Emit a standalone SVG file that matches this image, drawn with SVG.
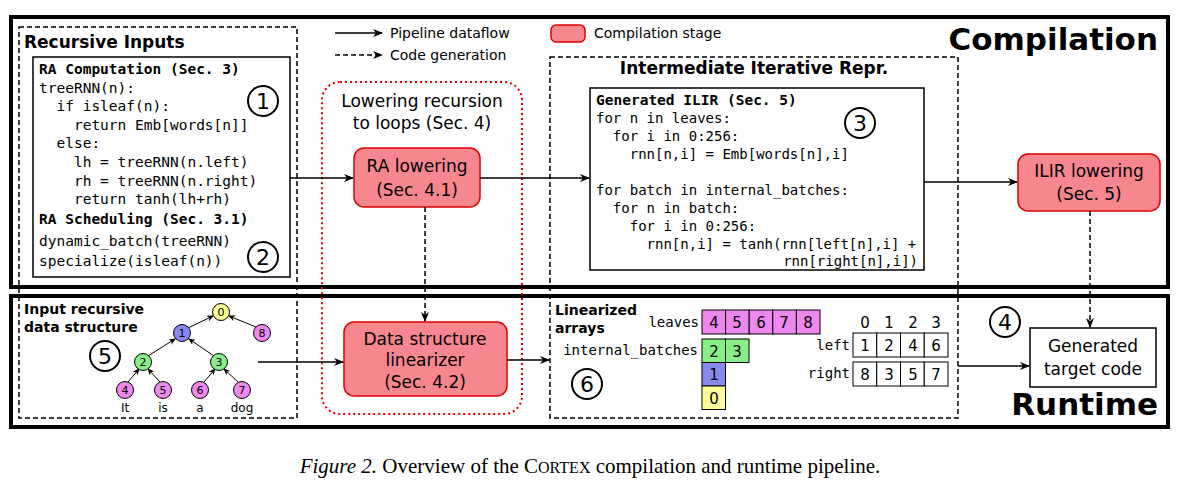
<svg xmlns="http://www.w3.org/2000/svg" width="1200" height="491" viewBox="0 0 1200 491">
<defs>
<marker id="ah" markerWidth="10" markerHeight="8" refX="9" refY="4" orient="auto" markerUnits="userSpaceOnUse"><path d="M0,0 L10,4 L0,8 L3,4 Z" fill="#000"/></marker>
<marker id="sa" markerWidth="7" markerHeight="6" refX="6" refY="3" orient="auto" markerUnits="userSpaceOnUse"><path d="M0,0 L7,3 L0,6 L2,3 Z" fill="#000"/></marker>
<style>
text{font-family:"DejaVu Sans","Liberation Sans",sans-serif;fill:#000}
.m{font-family:"DejaVu Sans Mono","Liberation Mono",monospace;font-size:14px;white-space:pre}
.ml{font-family:"DejaVu Sans Mono","Liberation Mono",monospace;font-size:14.5px;white-space:pre}
.mb{font-family:"DejaVu Sans Mono","Liberation Mono",monospace;font-size:14.5px;font-weight:bold}
.h{font-size:17px;font-weight:bold}
.big{font-size:31px;font-weight:bold}
.stage{fill:#f7878f;stroke:#e00000;stroke-width:1.5}
.st{font-size:17px;text-anchor:middle}
.dash{fill:none;stroke:#000;stroke-width:1.5;stroke-dasharray:5,3}
.num{fill:#fff;stroke:#000;stroke-width:2}
.nt{font-size:22px;text-anchor:middle}
.cell{stroke:#000;stroke-width:1}
.ct{font-size:15px;text-anchor:middle}
.tn{stroke:#000;stroke-width:1}
.tt{font-size:11px;text-anchor:middle}
.cap{font-family:"Liberation Serif","Times New Roman",serif;font-size:21px}
.flow{stroke:#000;stroke-width:1.5;fill:none;marker-end:url(#ah)}
.cg{stroke:#000;stroke-width:1.5;fill:none;stroke-dasharray:5,3;marker-end:url(#ah)}
</style>
</defs>
<rect width="1200" height="491" fill="#fff"/>
<g id="frames">
<rect x="11" y="17" width="1157" height="270" fill="none" stroke="#000" stroke-width="4"/>
<rect x="11" y="296" width="1157" height="131" fill="none" stroke="#000" stroke-width="4"/>
<text x="1158" y="50" class="big" text-anchor="end">Compilation</text>
<text x="1158" y="415" class="big" text-anchor="end">Runtime</text>
</g>
<g id="legend">
<line x1="335" y1="33" x2="382" y2="33" class="flow"/>
<text x="390" y="38" font-size="14">Pipeline dataflow</text>
<line x1="335" y1="55" x2="382" y2="55" class="cg"/>
<text x="390" y="60" font-size="14">Code generation</text>
<rect x="551" y="25" width="34" height="17" rx="5" class="stage"/>
<text x="594" y="38" font-size="14">Compilation stage</text>
</g>
<g id="recursive-inputs">
<rect x="19" y="27" width="278" height="391" class="dash"/>
<text x="24" y="48" class="h">Recursive Inputs</text>
<rect x="33" y="57" width="257" height="220" fill="#fff" stroke="#000" stroke-width="1.5"/>
<text x="39" y="74" class="mb">RA Computation (Sec. 3)</text>
<text x="39" y="93" class="ml" xml:space="preserve">treeRNN(n):</text>
<text x="39" y="111" class="ml" xml:space="preserve">  if isleaf(n):</text>
<text x="39" y="130" class="ml" xml:space="preserve">    return Emb[words[n]]</text>
<text x="39" y="148" class="ml" xml:space="preserve">  else:</text>
<text x="39" y="167" class="ml" xml:space="preserve">    lh = treeRNN(n.left)</text>
<text x="39" y="186" class="ml" xml:space="preserve">    rh = treeRNN(n.right)</text>
<text x="39" y="204" class="ml" xml:space="preserve">    return tanh(lh+rh)</text>
<text x="39" y="224" class="mb">RA Scheduling (Sec. 3.1)</text>
<text x="39" y="246" class="ml">dynamic_batch(treeRNN)</text>
<text x="39" y="266" class="ml">specialize(isleaf(n))</text>
<circle cx="263" cy="101" r="15" class="num"/><text x="263" y="109" class="nt">1</text>
<circle cx="263" cy="257" r="15" class="num"/><text x="263" y="265" class="nt">2</text>
</g>
<g id="input-tree">
<text x="24" y="314" font-size="14" font-weight="bold">Input recursive</text>
<text x="24" y="332" font-size="14" font-weight="bold">data structure</text>
<circle cx="105" cy="356" r="15" class="num"/><text x="105" y="364" class="nt">5</text>
<g stroke="#000" stroke-width="1" marker-end="url(#sa)">
<line x1="188" y1="328" x2="213" y2="316"/>
<line x1="256" y1="327" x2="229" y2="316"/>
<line x1="148" y1="356" x2="175" y2="339"/>
<line x1="214" y1="356" x2="189" y2="339"/>
<line x1="128" y1="382" x2="139" y2="369"/>
<line x1="160" y1="382" x2="148" y2="369"/>
<line x1="204" y1="382" x2="215" y2="369"/>
<line x1="238" y1="382" x2="224" y2="369"/>
</g>
<circle cx="221" cy="312" r="8.5" fill="#ffff99" class="tn"/><text x="221" y="316" class="tt">0</text>
<circle cx="262" cy="333" r="8.5" fill="#ee88ee" class="tn"/><text x="262" y="337" class="tt">8</text>
<circle cx="182" cy="333" r="8.5" fill="#8888ee" class="tn"/><text x="182" y="337" class="tt">1</text>
<circle cx="143" cy="362" r="8.5" fill="#88ee88" class="tn"/><text x="143" y="366" class="tt">2</text>
<circle cx="219" cy="362" r="8.5" fill="#88ee88" class="tn"/><text x="219" y="366" class="tt">3</text>
<circle cx="125" cy="390" r="8.5" fill="#ee88ee" class="tn"/><text x="125" y="394" class="tt">4</text>
<circle cx="163" cy="390" r="8.5" fill="#ee88ee" class="tn"/><text x="163" y="394" class="tt">5</text>
<circle cx="200" cy="390" r="8.5" fill="#ee88ee" class="tn"/><text x="200" y="394" class="tt">6</text>
<circle cx="242" cy="390" r="8.5" fill="#ee88ee" class="tn"/><text x="242" y="394" class="tt">7</text>
<text x="125" y="412" font-size="12" text-anchor="middle">It</text>
<text x="163" y="412" font-size="12" text-anchor="middle">is</text>
<text x="200" y="412" font-size="12" text-anchor="middle">a</text>
<text x="242" y="412" font-size="12" text-anchor="middle">dog</text>
</g>
<g id="lowering">
<rect x="322" y="82" width="200" height="332" rx="18" fill="none" stroke="#e00000" stroke-width="2" stroke-dasharray="2,3"/>
<text x="422" y="107" class="st">Lowering recursion</text>
<text x="422" y="129" class="st">to loops (Sec. 4)</text>
</g>
<g id="ra-lowering">
<rect x="354" y="148" width="126" height="59" rx="10" class="stage"/>
<text x="417" y="172" class="st">RA lowering</text>
<text x="417" y="196" class="st">(Sec. 4.1)</text>
</g>
<g id="linearizer">
<rect x="344" y="322" width="163" height="74" rx="10" class="stage"/>
<text x="425" y="345" class="st">Data structure</text>
<text x="425" y="366" class="st">linearizer</text>
<text x="425" y="388" class="st">(Sec. 4.2)</text>
</g>
<g id="intermediate">
<rect x="550" y="57" width="408" height="361" class="dash"/>
<text x="754" y="74" class="h" text-anchor="middle">Intermediate Iterative Repr.</text>
<rect x="590" y="88" width="334" height="182" fill="#fff" stroke="#000" stroke-width="1.5"/>
<text x="596" y="105" class="mb">Generated ILIR (Sec. 5)</text>
<text x="596" y="123" class="m" xml:space="preserve">for n in leaves:</text>
<text x="596" y="141" class="m" xml:space="preserve">  for i in 0:256:</text>
<text x="596" y="159" class="m" xml:space="preserve">    rnn[n,i] = Emb[words[n],i]</text>
<text x="596" y="195" class="m" xml:space="preserve">for batch in internal_batches:</text>
<text x="596" y="213" class="m" xml:space="preserve">  for n in batch:</text>
<text x="596" y="231" class="m" xml:space="preserve">    for i in 0:256:</text>
<text x="596" y="249" class="m" xml:space="preserve">      rnn[n,i] = tanh(rnn[left[n],i] +</text>
<text x="918" y="266" class="m" text-anchor="end">rnn[right[n],i])</text>
<circle cx="860" cy="123" r="15" class="num"/><text x="860" y="131" class="nt">3</text>
</g>
<g id="ilir-lowering">
<rect x="1018" y="154" width="142" height="57" rx="10" class="stage"/>
<text x="1089" y="177" class="st">ILIR lowering</text>
<text x="1089" y="200" class="st">(Sec. 5)</text>
</g>
<g id="linearized-arrays">
<text x="555" y="315" font-size="14" font-weight="bold">Linearized</text>
<text x="555" y="333" font-size="14" font-weight="bold">arrays</text>
<text x="699" y="327" class="m" text-anchor="end">leaves</text>
<text x="698" y="355" class="m" text-anchor="end">internal_batches</text>
<circle cx="587" cy="384" r="15" class="num"/><text x="587" y="392" class="nt">6</text>
<g class="cell" fill="#ee88ee">
<rect x="702" y="310" width="23.6" height="24"/><rect x="725.6" y="310" width="23.6" height="24"/><rect x="749.2" y="310" width="23.6" height="24"/><rect x="772.8" y="310" width="23.6" height="24"/><rect x="796.4" y="310" width="23.6" height="24"/>
</g>
<text x="714" y="328" class="ct">4</text><text x="737" y="328" class="ct">5</text><text x="761" y="328" class="ct">6</text><text x="784" y="328" class="ct">7</text><text x="808" y="328" class="ct">8</text>
<rect x="702" y="339" width="23.5" height="23.5" fill="#88ee88" class="cell"/><rect x="725.5" y="339" width="23.5" height="23.5" fill="#88ee88" class="cell"/>
<rect x="702" y="362.5" width="23.5" height="23.5" fill="#8888ee" class="cell"/>
<rect x="702" y="386" width="23.5" height="23.5" fill="#ffff99" class="cell"/>
<text x="714" y="357" class="ct">2</text><text x="737" y="357" class="ct">3</text><text x="714" y="380" class="ct">1</text><text x="714" y="404" class="ct">0</text>
<text x="865" y="328" class="ct">0</text><text x="889" y="328" class="ct">1</text><text x="913" y="328" class="ct">2</text><text x="936" y="328" class="ct">3</text>
<text x="850" y="350" class="m" text-anchor="end">left</text>
<text x="850" y="378" class="m" text-anchor="end">right</text>
<g fill="#fff" class="cell">
<rect x="853" y="333" width="23.75" height="24"/><rect x="876.75" y="333" width="23.75" height="24"/><rect x="900.5" y="333" width="23.75" height="24"/><rect x="924.25" y="333" width="23.75" height="24"/>
<rect x="853" y="362" width="23.75" height="24"/><rect x="876.75" y="362" width="23.75" height="24"/><rect x="900.5" y="362" width="23.75" height="24"/><rect x="924.25" y="362" width="23.75" height="24"/>
</g>
<text x="865" y="351" class="ct">1</text><text x="889" y="351" class="ct">2</text><text x="913" y="351" class="ct">4</text><text x="936" y="351" class="ct">6</text>
<text x="865" y="380" class="ct">8</text><text x="889" y="380" class="ct">3</text><text x="913" y="380" class="ct">5</text><text x="936" y="380" class="ct">7</text>
</g>
<g id="target-code">
<circle cx="1005" cy="322" r="15" class="num"/><text x="1005" y="330" class="nt">4</text>
<rect x="1030" y="328" width="126" height="59" fill="#fff" stroke="#000" stroke-width="1.5"/>
<text x="1093" y="352" class="st">Generated</text>
<text x="1093" y="375" class="st">target code</text>
</g>
<g id="connectors">
<line x1="290" y1="178" x2="353" y2="178" class="flow"/>
<line x1="480" y1="178" x2="589" y2="178" class="flow"/>
<line x1="924" y1="182" x2="1017" y2="182" class="flow"/>
<line x1="425" y1="207" x2="425" y2="321" class="cg"/>
<line x1="1090" y1="211" x2="1090" y2="327" class="cg"/>
<line x1="258" y1="362" x2="343" y2="362" class="flow"/>
<line x1="507" y1="360" x2="549" y2="360" class="flow"/>
<line x1="958" y1="366" x2="1029" y2="366" class="flow"/>
</g>
<text x="590" y="473" class="cap" text-anchor="middle"><tspan font-style="italic">Figure 2.</tspan> Overview of the C<tspan font-size="16">ORTEX</tspan> compilation and runtime pipeline.</text>
</svg>
